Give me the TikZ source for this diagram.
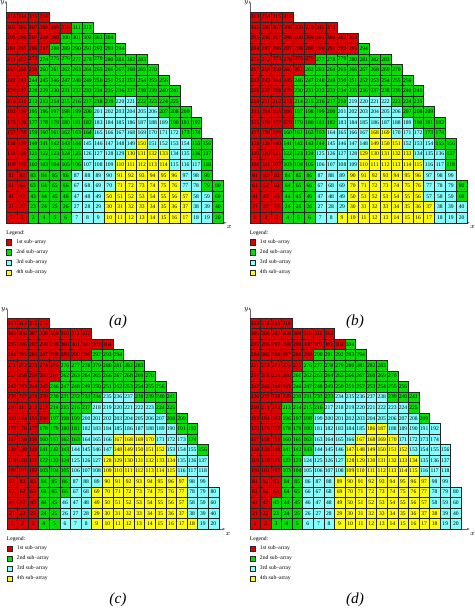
\documentclass[tikz,border=0pt]{standalone}
\usepackage{fontspec}
\setmainfont{Liberation Serif}
\usetikzlibrary{arrows.meta}

\definecolor{subR}{RGB}{225,0,0}
\definecolor{subG}{RGB}{0,225,0}
\definecolor{subC}{RGB}{130,255,255}
\definecolor{subY}{RGB}{255,255,0}

\tikzset{
  cell/.style={draw=black!85, line width=0.25pt, inner sep=0pt, minimum height=7.91pt, font=\fontsize{4.2}{4.2}\selectfont},
  axis/.style={draw=black!60, line width=0.3pt, -{Latex[length=2.2pt,width=1.6pt]}},
  axislabel/.style={font=\fontsize{4.5}{5}\selectfont, inner sep=0pt},
  legbox/.style={draw=black!85, line width=0.25pt, minimum size=3.8pt, inner sep=0pt},
  legtext/.style={font=\fontsize{4.2}{5}\selectfont, inner sep=0pt, anchor=west},
  caption/.style={font=\fontsize{11.5}{12}\selectfont\itshape}
}

% #1 tag, #2 left, #3 bottom, #4 cell width, #5 x-axis end, #6 y-axis top, #7 rows as colour runs
\newcommand{\subpanel}[7]{
  \coordinate (#1-o) at (#2,#3);
  \coordinate (#1-xe) at (#5,#3);
  \coordinate (#1-ye) at (#2,#6);
  \draw[axis] (#1-o) -- (#1-xe);
  \draw[axis] (#1-o) -- (#1-ye);
  \node[axislabel] (#1-xl) at ([shift={(2.6,4.6)}]#1-xe) {$x$};
  \node[axislabel] (#1-yl) at ([shift={(-3.6,2.5)}]#1-ye) {$y$};
  \foreach \row/\runs in {#7} {
    \foreach \clr/\len [remember=\nxt as \fst (initially 0), evaluate=\len as \nxt using int(\fst+\len), evaluate=\len as \lst using int(\fst+\len-1)] in \runs {
      \foreach \col in {\fst,...,\lst} {
        \pgfmathtruncatemacro\num{{1,21,41,61,81,100,119,138,157,175,193,210,226,242,257,271,284,295,305,313}[\row]+\col}
        \node[cell, fill=sub\clr, minimum width=#4*0.75pt] (#1-\num) at ({#2+(\col+0.5)*#4},{#3-(\row+0.5)*10.55}) {\num};
      }
    }
  }
  % legend
  \node[legtext] (#1-leg) at (#2,#3+10) {Legend:};
  \foreach \clr/\txt [count=\i] in {R/1st,G/2nd,C/3rd,Y/4th} {
    \node[legbox, fill=sub\clr] (#1-box\i) at (#2+2.6,#3+9.5+10*\i) {};
    \node[legtext] (#1-lab\i) at (#2+10,#3+9.5+10*\i) {\txt\ sub--array};
  }
}

\begin{document}
\begin{tikzpicture}[x=0.75pt, y=-0.75pt]
  \useasboundingbox (0,0) rectangle (474,609);

  \subpanel{a}{6}{222.7}{10.87}{226.7}{0.5}{
    0/{R/2,G/4,C/3,Y/8,C/2,G/1}, 1/{R/2,G/4,C/3,Y/8,C/2,G/1},
    2/{R/2,G/4,C/3,Y/8,C/2,G/1}, 3/{R/2,G/4,C/4,Y/6,C/2,G/2},
    4/{R/2,G/4,C/4,Y/6,C/2,G/1}, 5/{R/2,G/5,C/3,Y/5,C/3,G/1},
    6/{R/2,G/5,C/4,Y/4,C/2,G/2}, 7/{R/2,G/5,C/5,Y/1,C/4,G/2},
    8/{R/2,G/6,C/8,G/2}, 9/{R/2,G/6,C/7,G/3}, 10/{R/2,G/6,C/6,G/3},
    11/{R/2,G/8,C/2,G/4}, 12/{R/2,G/14}, 13/{R/2,G/13}, 14/{R/3,G/11},
    15/{R/3,G/10}, 16/{R/4,G/7}, 17/{R/5,G/5}, 18/{R/6,G/2}, 19/{R/4}}

  \subpanel{b}{249.7}{222.7}{10.87}{470}{0.5}{
    0/{R/3,G/3,C/2,Y/9,C/3}, 1/{R/3,G/3,C/3,Y/8,C/3},
    2/{R/3,G/3,C/3,Y/7,C/3,G/1}, 3/{R/3,G/3,C/3,Y/7,C/3,G/1},
    4/{R/3,G/3,C/3,Y/7,C/3}, 5/{R/3,G/3,C/4,Y/6,C/2,G/1},
    6/{R/3,G/3,C/4,Y/5,C/3,G/1}, 7/{R/3,G/4,C/4,Y/3,C/3,G/2},
    8/{R/3,G/4,C/4,Y/2,C/3,G/2}, 9/{R/4,G/4,C/7,G/3}, 10/{R/4,G/4,C/6,G/3},
    11/{R/4,G/5,C/4,G/3}, 12/{R/4,G/12}, 13/{R/4,G/11}, 14/{R/5,G/9},
    15/{R/6,G/7}, 16/{R/10,G/1}, 17/{R/10}, 18/{R/8}, 19/{R/4}}

  \subpanel{c}{6.7}{529}{10.6}{225.5}{307}{
    0/{R/3,G/2,C/3,Y/10,C/2}, 1/{R/3,G/2,C/3,Y/9,C/3},
    2/{R/3,G/2,C/3,Y/9,C/3}, 3/{R/3,G/3,C/2,Y/9,C/3},
    4/{R/3,G/3,C/3,Y/8,C/2}, 5/{R/3,G/3,C/3,Y/7,C/3},
    6/{R/3,G/3,C/3,Y/7,C/3}, 7/{R/3,G/3,C/4,Y/5,C/3,G/1},
    8/{R/3,G/4,C/3,Y/4,C/3,G/1}, 9/{R/3,G/4,C/9,G/2}, 10/{R/4,G/3,C/8,G/2},
    11/{R/4,G/4,C/6,G/2}, 12/{R/4,G/5,C/3,G/4}, 13/{R/4,G/11}, 14/{R/5,G/9},
    15/{R/5,G/8}, 16/{R/8,G/3}, 17/{R/10}, 18/{R/8}, 19/{R/4}}

  \subpanel{d}{249.7}{529}{10.57}{470}{307}{
    0/{R/2,G/3,C/3,Y/10,C/2}, 1/{R/2,G/3,C/3,Y/10,C/2},
    2/{R/2,G/3,C/3,Y/9,C/3}, 3/{R/3,G/2,C/3,Y/9,C/3},
    4/{R/3,G/2,C/3,Y/9,C/2}, 5/{R/3,G/2,C/4,Y/7,C/3},
    6/{R/3,G/2,C/4,Y/7,C/3}, 7/{R/3,G/3,C/3,Y/6,C/4},
    8/{R/3,G/3,C/4,Y/4,C/4}, 9/{R/3,G/3,C/5,Y/2,C/5}, 10/{R/3,G/3,C/10,G/1},
    11/{R/3,G/4,C/8,G/1}, 12/{R/4,G/4,C/5,G/3}, 13/{R/4,G/11}, 14/{R/4,G/10},
    15/{R/5,G/8}, 16/{R/6,G/5}, 17/{R/9,G/1}, 18/{R/8}, 19/{R/4}}

  % sub-figure captions
  \node[caption] (cap-a) at (118,322) {(a)};
  \node[caption] (cap-b) at (355,322) {(b)};
  \node[caption] (cap-c) at (118,600) {(c)};
  \node[caption] (cap-d) at (355,600) {(d)};
\end{tikzpicture}
\end{document}
